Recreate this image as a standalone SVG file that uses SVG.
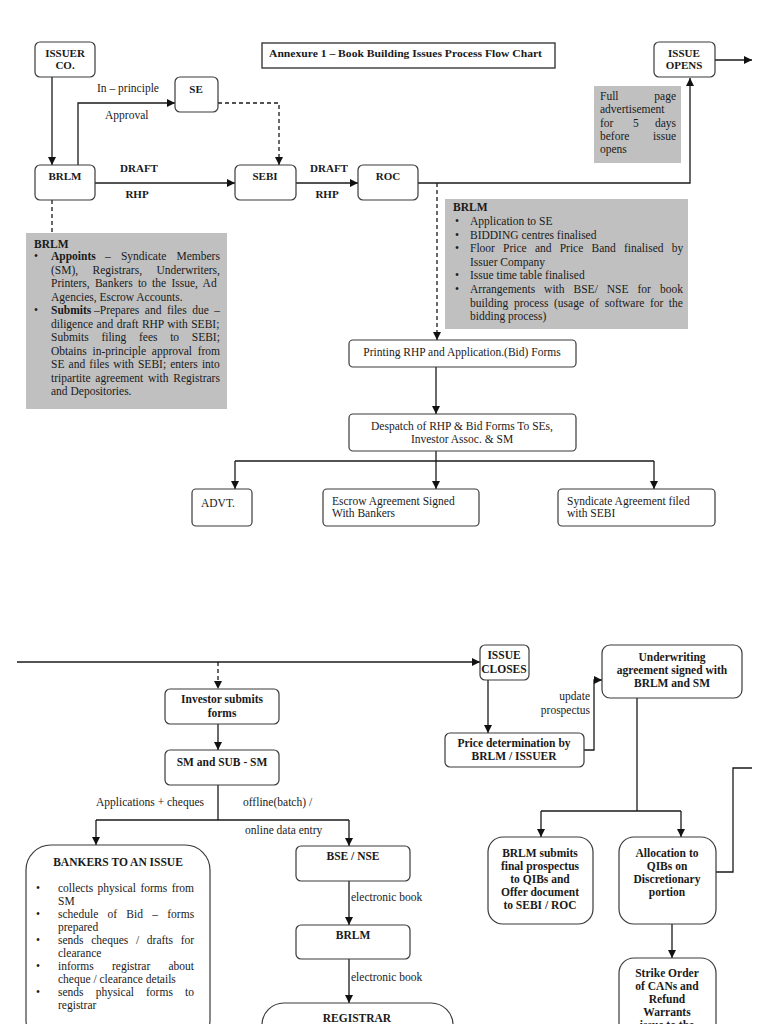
<svg xmlns="http://www.w3.org/2000/svg" width="768" height="1024" viewBox="0 0 768 1024">
<defs>
<marker id="ah" markerUnits="userSpaceOnUse" markerWidth="9" markerHeight="9" refX="8" refY="4" orient="auto">
<path d="M0,0 L8,4 L0,8 z" fill="#111"/>
</marker>
<style>
text{font-family:"Liberation Serif","Times New Roman",serif;fill:#1a1a1a;font-size:11.5px}
.b{font-weight:bold}
.c{text-anchor:middle}
.r{text-anchor:end}
.box{fill:#fff;stroke:#3a3a3a;stroke-width:1.2}
.gray{fill:#c0c0c0;stroke:none}
.ln{fill:none;stroke:#1a1a1a;stroke-width:1.3}
.ar{fill:none;stroke:#1a1a1a;stroke-width:1.3;marker-end:url(#ah)}
.dash{stroke-dasharray:4,3}
</style>
</defs>
<rect width="768" height="1024" fill="#fff"/>

<g id="connectors">
<path class="ar" d="M52,77 V165"/>
<path class="ar" d="M78,165 V103 H175"/>
<path class="ar" d="M95,183 H235"/>
<path class="ar dash" d="M218,103 H279 V165"/>
<path class="ar" d="M296,183 H358"/>
<path class="ar" d="M418,183 H690 V78"/>
<path class="ar" d="M715,60 H752"/>
<path class="ln dash" d="M52,200 V233"/>
<path class="ar dash" d="M437,183 V340"/>
<path class="ar" d="M436,367 V414"/>
<path class="ln" d="M436,451 V461 M235,461 H654"/>
<path class="ar" d="M235,461 V489"/>
<path class="ar" d="M436,461 V489"/>
<path class="ar" d="M654,461 V489"/>
<path class="ar" d="M17,662 H480"/>
<path class="ar dash" d="M218,662 V689"/>
<path class="ar" d="M218,724 V750"/>
<path class="ln" d="M218,785 V820 M96,820 H349"/>
<path class="ar" d="M96,820 V845"/>
<path class="ar" d="M349,820 V846"/>
<path class="ar" d="M349,881 V925"/>
<path class="ar" d="M349,959 V1003"/>
<path class="ar" d="M488,680 V733"/>
<path class="ar" d="M584,750 H594 V680 H602"/>
<path class="ln" d="M637,698 V811 M541,811 H681"/>
<path class="ar" d="M541,811 V837"/>
<path class="ar" d="M681,811 V837"/>
<path class="ar" d="M672,924 V958"/>
<path class="ln" d="M752,768 H733 V872 H716"/>
</g>

<g id="title">
<rect class="box" x="262" y="43" width="293" height="25" rx="0" style="stroke-width:1.4"/>
<text class="b" x="269" y="57" style="font-size:11px" textLength="273" lengthAdjust="spacingAndGlyphs">Annexure 1 – Book Building Issues Process Flow Chart</text>
</g>

<g id="issuer">
<rect class="box" x="35" y="42" width="60" height="35" rx="5"/>
<text class="b c" x="65" y="57" style="font-size:11px">ISSUER</text>
<text class="b c" x="65" y="69" style="font-size:11px">CO.</text>
</g>

<g id="se">
<rect class="box" x="175" y="77" width="43" height="35" rx="5"/>
<text class="b c" x="196" y="93" style="font-size:11px">SE</text>
</g>

<g id="brlm-top">
<rect class="box" x="35" y="165" width="60" height="35" rx="5"/>
<text class="b c" x="65" y="180" style="font-size:11px">BRLM</text>
</g>

<g id="sebi">
<rect class="box" x="235" y="165" width="61" height="35" rx="5"/>
<text class="b c" x="265" y="180" style="font-size:11px">SEBI</text>
</g>

<g id="roc">
<rect class="box" x="358" y="165" width="60" height="35" rx="5"/>
<text class="b c" x="388" y="180" style="font-size:11px">ROC</text>
</g>

<g id="edge-labels">
<text x="97" y="92">In – principle</text>
<text x="105" y="119">Approval</text>
<text class="b c" x="139" y="172" style="font-size:11px">DRAFT</text>
<text class="b c" x="137" y="198" style="font-size:11px">RHP</text>
<text class="b c" x="329" y="172" style="font-size:11px">DRAFT</text>
<text class="b c" x="327" y="198" style="font-size:11px">RHP</text>
<text class="r" x="590" y="700">update</text>
<text class="r" x="590" y="714">prospectus</text>
<text x="96" y="806">Applications + cheques</text>
<text x="243" y="806">offline(batch) /</text>
<text x="245" y="834">online data entry</text>
<text x="351" y="901">electronic book</text>
<text x="351" y="981">electronic book</text>
</g>

<g id="issue-opens">
<rect class="box" x="654" y="42" width="61" height="35" rx="5"/>
<text class="b c" x="684" y="57" style="font-size:11px">ISSUE</text>
<text class="b c" x="684" y="69" style="font-size:11px">OPENS</text>
</g>

<g id="note-advert">
<rect class="gray" x="594" y="86" width="87" height="77"/>
<text x="600" y="100">Full</text>
<text class="r" x="676" y="100">page</text>
<text x="600" y="113">advertisement</text>
<text x="600" y="127">for</text>
<text x="633" y="127">5</text>
<text class="r" x="676" y="127">days</text>
<text x="600" y="140">before</text>
<text class="r" x="676" y="140">issue</text>
<text x="600" y="153">opens</text>
</g>

<g id="note-brlm-left">
<rect class="gray" x="26" y="233" width="201" height="176"/>
<text class="b" x="34" y="248">BRLM</text>
<text x="34" y="260">•</text>
<text class="b" x="51" y="260">Appoints</text>
<text x="105" y="260" style="word-spacing:7.3px">– Syndicate Members</text>
<text x="51" y="273.5" style="word-spacing:11.5px">(SM), Registrars, Underwriters,</text>
<text x="51" y="287" style="word-spacing:2.4px">Printers, Bankers to the Issue, Ad</text>
<text x="51" y="300.5">Agencies, Escrow Accounts.</text>
<text x="34" y="314">•</text>
<text class="b" x="51" y="314">Submits</text>
<text x="94" y="314" style="word-spacing:2.6px">–Prepares and files due –</text>
<text x="51" y="327.5" style="word-spacing:0.6px">diligence and draft RHP with SEBI;</text>
<text x="51" y="341" style="word-spacing:9.8px">Submits filing fees to SEBI;</text>
<text x="51" y="354.5" style="word-spacing:2.8px">Obtains in-principle approval from</text>
<text x="51" y="368" style="word-spacing:1.3px">SE and files with SEBI; enters into</text>
<text x="51" y="381.5" style="word-spacing:1.9px">tripartite agreement with Registrars</text>
<text x="51" y="395">and Depositories.</text>
</g>

<g id="note-brlm-right">
<rect class="gray" x="445" y="199" width="243" height="130"/>
<text class="b" x="453" y="211">BRLM</text>
<text x="455" y="225">•</text>
<text x="470" y="225">Application to SE</text>
<text x="455" y="238.5">•</text>
<text x="470" y="238.5">BIDDING centres finalised</text>
<text x="455" y="252">•</text>
<text x="470" y="252" style="word-spacing:5.3px">Floor Price and Price Band finalised by</text>
<text x="470" y="265.5">Issuer Company</text>
<text x="455" y="279">•</text>
<text x="470" y="279">Issue time table finalised</text>
<text x="455" y="293">•</text>
<text x="470" y="293" style="word-spacing:6.1px">Arrangements with BSE/ NSE for book</text>
<text x="470" y="306.5" style="word-spacing:2.7px">building process (usage of software for the</text>
<text x="470" y="320">bidding process)</text>
</g>

<g id="printing">
<rect class="box" x="349" y="340" width="227" height="27" rx="4"/>
<text class="c" x="462" y="356">Printing RHP and Application.(Bid) Forms</text>
</g>

<g id="despatch">
<rect class="box" x="349" y="414" width="227" height="37" rx="4"/>
<text class="c" x="462" y="430">Despatch of RHP &amp;  Bid Forms To SEs,</text>
<text class="c" x="462" y="443">Investor Assoc. &amp; SM</text>
</g>

<g id="advt">
<rect class="box" x="192" y="489" width="60" height="37" rx="4"/>
<text x="201" y="507">ADVT.</text>
</g>

<g id="escrow">
<rect class="box" x="323" y="489" width="156" height="37" rx="4"/>
<text x="332" y="505">Escrow Agreement Signed</text>
<text x="332" y="517">With Bankers</text>
</g>

<g id="syndicate">
<rect class="box" x="558" y="489" width="157" height="37" rx="4"/>
<text x="567" y="505">Syndicate Agreement filed</text>
<text x="567" y="517">with SEBI</text>
</g>

<g id="investor">
<rect class="box" x="165" y="689" width="114" height="35" rx="5"/>
<text class="b c" x="222" y="703">Investor submits</text>
<text class="b c" x="222" y="717">forms</text>
</g>

<g id="sm">
<rect class="box" x="165" y="750" width="114" height="35" rx="5"/>
<text class="b c" x="222" y="766">SM and SUB - SM</text>
</g>

<g id="bankers">
<rect class="box" x="26" y="845" width="184" height="200" rx="25"/>
<text class="b c" x="118" y="866">BANKERS TO AN ISSUE</text>
<text x="36" y="892">•</text>
<text x="58" y="892" style="word-spacing:1.6px">collects physical forms from</text>
<text x="58" y="905">SM</text>
<text x="36" y="918">•</text>
<text x="58" y="918" style="word-spacing:6.4px">schedule of Bid – forms</text>
<text x="58" y="931">prepared</text>
<text x="36" y="944">•</text>
<text x="58" y="944" style="word-spacing:4.8px">sends cheques / drafts for</text>
<text x="58" y="957">clearance</text>
<text x="36" y="970">•</text>
<text x="58" y="970" style="word-spacing:15.3px">informs registrar about</text>
<text x="58" y="983">cheque / clearance details</text>
<text x="36" y="996">•</text>
<text x="58" y="996" style="word-spacing:9.2px">sends physical forms to</text>
<text x="58" y="1009">registrar</text>
</g>

<g id="bse-nse">
<rect class="box" x="296" y="846" width="114" height="35" rx="5"/>
<text class="b c" x="353" y="860">BSE / NSE</text>
</g>

<g id="brlm-bottom">
<rect class="box" x="296" y="925" width="114" height="34" rx="5"/>
<text class="b c" x="353" y="939">BRLM</text>
</g>

<g id="registrar">
<rect class="box" x="262" y="1003" width="191" height="60" rx="22"/>
<text class="b c" x="357" y="1022">REGISTRAR</text>
</g>

<g id="issue-closes">
<rect class="box" x="480" y="645" width="49" height="35" rx="5"/>
<text class="b c" x="504" y="659">ISSUE</text>
<text class="b c" x="504" y="673">CLOSES</text>
</g>

<g id="price">
<rect class="box" x="445" y="733" width="139" height="34" rx="5"/>
<text class="b c" x="514" y="747">Price determination by</text>
<text class="b c" x="514" y="760">BRLM / ISSUER</text>
</g>

<g id="underwriting">
<rect class="box" x="602" y="645" width="140" height="53" rx="8"/>
<text class="b c" x="672" y="661">Underwriting</text>
<text class="b c" x="672" y="674">agreement signed with</text>
<text class="b c" x="672" y="687">BRLM and SM</text>
</g>

<g id="brlm-submits">
<rect class="box" x="488" y="837" width="105" height="87" rx="15"/>
<text class="b c" x="540" y="857">BRLM submits</text>
<text class="b c" x="540" y="870">final prospectus</text>
<text class="b c" x="540" y="883">to QIBs and</text>
<text class="b c" x="540" y="896">Offer document</text>
<text class="b c" x="540" y="909">to SEBI / ROC</text>
</g>

<g id="allocation">
<rect class="box" x="619" y="837" width="97" height="87" rx="15"/>
<text class="b c" x="667" y="857">Allocation to</text>
<text class="b c" x="667" y="870">QIBs on</text>
<text class="b c" x="667" y="883">Discretionary</text>
<text class="b c" x="667" y="896">portion</text>
</g>

<g id="strike-order">
<rect class="box" x="619" y="958" width="97" height="100" rx="15"/>
<text class="b c" x="667" y="977">Strike Order</text>
<text class="b c" x="667" y="990">of CANs and</text>
<text class="b c" x="667" y="1003">Refund</text>
<text class="b c" x="667" y="1016">Warrants</text>
<text class="b c" x="667" y="1029">issue to the</text>
</g>
</svg>
